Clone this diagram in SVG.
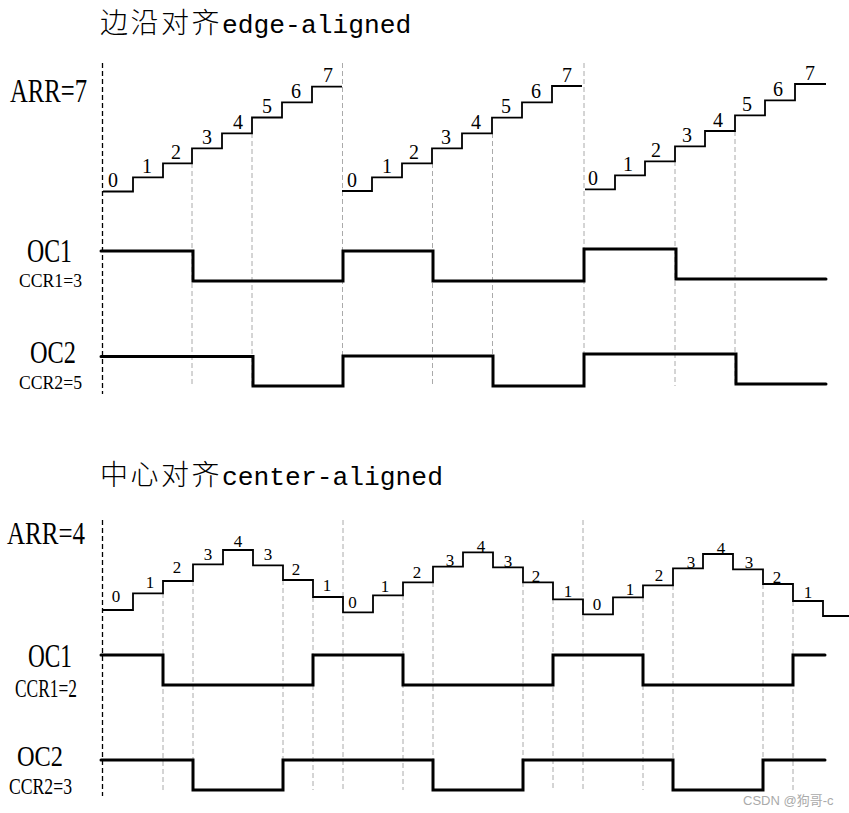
<svg xmlns="http://www.w3.org/2000/svg" width="849" height="813" viewBox="0 0 849 813">
<style>
.title{font-family:"Liberation Mono","Noto Sans CJK SC",monospace;fill:#000}
.cjk{font-family:"Noto Sans CJK SC",sans-serif;font-size:28px;font-weight:300;letter-spacing:2.5px}
.lat{font-family:"Liberation Mono",monospace;font-size:26.3px}
.lbl{font-family:"Liberation Serif",serif;fill:#000}
.d1{font-family:"Liberation Serif",serif;font-size:20px;text-anchor:middle;fill:#000}
.d2{font-family:"Liberation Serif",serif;font-size:17px;text-anchor:middle;fill:#000}
.stair{fill:none;stroke:#000;stroke-width:1.8}
.wave{fill:none;stroke:#000;stroke-width:3;stroke-linecap:round;stroke-linejoin:miter}
.gd{stroke:#aaa;stroke-width:1;stroke-dasharray:5 3}
.bd{stroke:#000;stroke-width:1.3;stroke-dasharray:5 3}
.wm{font-family:"Liberation Sans","Noto Sans CJK SC",sans-serif;font-size:13px;fill:#aaa}
</style>
<rect width="849" height="813" fill="#fff"/>

<g id="edge-aligned">
<text class="title" x="100" y="33"><tspan class="cjk">边沿对齐</tspan><tspan class="lat" x="222">edge-aligned</tspan></text>
<g id="guides-top">
<line class="bd" x1="102.5" y1="63" x2="102.5" y2="394"/>
<line class="gd" x1="192" y1="163" x2="192" y2="386"/>
<line class="gd" x1="252" y1="133" x2="252" y2="386"/>
<line class="gd" x1="342.5" y1="63" x2="342.5" y2="386"/>
<line class="gd" x1="432.5" y1="163" x2="432.5" y2="386"/>
<line class="gd" x1="492.5" y1="133" x2="492.5" y2="386"/>
<line class="gd" x1="584" y1="63" x2="584" y2="386"/>
<line class="gd" x1="675" y1="161" x2="675" y2="386"/>
<line class="gd" x1="735" y1="131" x2="735" y2="386"/>
</g>
<g id="counter-top">
<path class="stair" d="M103,191.5 H133 V177.3 H163 V163.3 H192 V148.3 H222 V133.3 H252 V117.5 H282 V102.3 H312 V86.7 H342"/>
<path class="stair" d="M342,191 H372 V177.3 H402 V163.3 H432 V148.3 H462 V133.3 H492 V117.7 H522 V102.3 H552 V86 H582"/>
<path class="stair" d="M585,189.3 H615 V175.3 H645 V161.3 H675 V146.3 H705 V131 H735 V115.3 H765 V100.3 H795 V84 H826"/>
<text class="d1" x="113" y="187">0</text><text class="d1" x="147" y="172.8">1</text><text class="d1" x="176" y="158.8">2</text><text class="d1" x="207" y="143.8">3</text><text class="d1" x="238" y="128.8">4</text><text class="d1" x="267" y="113">5</text><text class="d1" x="296" y="97.8">6</text><text class="d1" x="328" y="82.2">7</text>
<text class="d1" x="352" y="186.5">0</text><text class="d1" x="387" y="172.8">1</text><text class="d1" x="414" y="158.8">2</text><text class="d1" x="446" y="143.8">3</text><text class="d1" x="476" y="128.8">4</text><text class="d1" x="506" y="113.2">5</text><text class="d1" x="536" y="97.8">6</text><text class="d1" x="567" y="81.5">7</text>
<text class="d1" x="593" y="184.8">0</text><text class="d1" x="628" y="170.8">1</text><text class="d1" x="656" y="156.8">2</text><text class="d1" x="687" y="141.8">3</text><text class="d1" x="718" y="126.5">4</text><text class="d1" x="747" y="110.8">5</text><text class="d1" x="778" y="95.8">6</text><text class="d1" x="810" y="79.5">7</text>
</g>
<text id="arr7" class="lbl" x="10" y="102" font-size="33" textLength="77" lengthAdjust="spacingAndGlyphs">ARR=7</text>
<g id="oc1-top">
<text class="lbl" x="27" y="262" font-size="33" textLength="45" lengthAdjust="spacingAndGlyphs">OC1</text>
<text class="lbl" x="19" y="287" font-size="18" textLength="63" lengthAdjust="spacingAndGlyphs">CCR1=3</text>
<path class="wave" d="M101,251 H193 V281 H343 V251 H433 V281 H584 V249 H676 V279 H826"/>
</g>
<g id="oc2-top">
<text class="lbl" x="30" y="363" font-size="32" textLength="46" lengthAdjust="spacingAndGlyphs">OC2</text>
<text class="lbl" x="19" y="389" font-size="18" textLength="63" lengthAdjust="spacingAndGlyphs">CCR2=5</text>
<path class="wave" d="M101,356.5 H253 V386 H343 V356 H493 V386 H584 V354 H736 V384 H826"/>
</g>
</g>

<g id="center-aligned">
<text class="title" x="100" y="485"><tspan class="cjk">中心对齐</tspan><tspan class="lat" x="222">center-aligned</tspan></text>
<g id="guides-bottom">
<line class="bd" x1="102.5" y1="520" x2="102.5" y2="796"/>
<line class="gd" x1="163" y1="593" x2="163" y2="790"/>
<line class="gd" x1="193" y1="581" x2="193" y2="790"/>
<line class="gd" x1="283" y1="580" x2="283" y2="790"/>
<line class="gd" x1="313" y1="597" x2="313" y2="790"/>
<line class="gd" x1="343" y1="520" x2="343" y2="790"/>
<line class="gd" x1="403" y1="595" x2="403" y2="790"/>
<line class="gd" x1="433" y1="582" x2="433" y2="790"/>
<line class="gd" x1="523" y1="582" x2="523" y2="790"/>
<line class="gd" x1="553" y1="599" x2="553" y2="790"/>
<line class="gd" x1="583" y1="520" x2="583" y2="790"/>
<line class="gd" x1="643" y1="597" x2="643" y2="790"/>
<line class="gd" x1="673" y1="585" x2="673" y2="790"/>
<line class="gd" x1="763" y1="584" x2="763" y2="790"/>
<line class="gd" x1="793" y1="601" x2="793" y2="790"/>
</g>
<g id="counter-bottom">
<path class="stair" d="M103,610 H133 V593.3 H163 V581 H193 V564.3 H223 V550 H253 V565.3 H283 V580 H313 V597 H343 V612.3 H373 V595.3 H403 V582.3 H433 V566.7 H463 V552.3 H493 V567.3 H523 V582.3 H553 V599.3 H583 V614.3 H613 V597.3 H643 V585.3 H673 V568.3 H703 V554 H733 V569.3 H763 V584 H793 V601 H823 V616 H849"/>
<text class="d2" x="116" y="601.5">0</text><text class="d2" x="150" y="588">1</text><text class="d2" x="177" y="573">2</text><text class="d2" x="208" y="560">3</text><text class="d2" x="238" y="547">4</text><text class="d2" x="268" y="560">3</text><text class="d2" x="296" y="575">2</text><text class="d2" x="327" y="591">1</text>
<text class="d2" x="352.5" y="608">0</text><text class="d2" x="385" y="592">1</text><text class="d2" x="417" y="578">2</text><text class="d2" x="450" y="565.5">3</text><text class="d2" x="481" y="552">4</text><text class="d2" x="508" y="566.5">3</text><text class="d2" x="536" y="581.5">2</text><text class="d2" x="568" y="596.5">1</text>
<text class="d2" x="597" y="610">0</text><text class="d2" x="630" y="595">1</text><text class="d2" x="659" y="580.5">2</text><text class="d2" x="691" y="568">3</text><text class="d2" x="721" y="554">4</text><text class="d2" x="749" y="568">3</text><text class="d2" x="777" y="583">2</text><text class="d2" x="808" y="597.5">1</text>
</g>
<text id="arr4" class="lbl" x="7" y="544" font-size="32" textLength="78" lengthAdjust="spacingAndGlyphs">ARR=4</text>
<g id="oc1-bottom">
<text class="lbl" x="28" y="667" font-size="33" textLength="44" lengthAdjust="spacingAndGlyphs">OC1</text>
<text class="lbl" x="15" y="697" font-size="25" textLength="62" lengthAdjust="spacingAndGlyphs">CCR1=2</text>
<path class="wave" d="M101,655 H163 V685 H313 V655 H403 V685 H553 V655 H643 V685 H793 V655 H825"/>
</g>
<g id="oc2-bottom">
<text class="lbl" x="17" y="766" font-size="30" textLength="46" lengthAdjust="spacingAndGlyphs">OC2</text>
<text class="lbl" x="9" y="794" font-size="23" textLength="63" lengthAdjust="spacingAndGlyphs">CCR2=3</text>
<path class="wave" d="M101,760 H193 V790 H283 V760 H433 V790 H523 V760 H673 V790 H763 V760 H825"/>
</g>
</g>
<text id="watermark" class="wm" x="743" y="805">CSDN @狗哥-c</text>
</svg>
